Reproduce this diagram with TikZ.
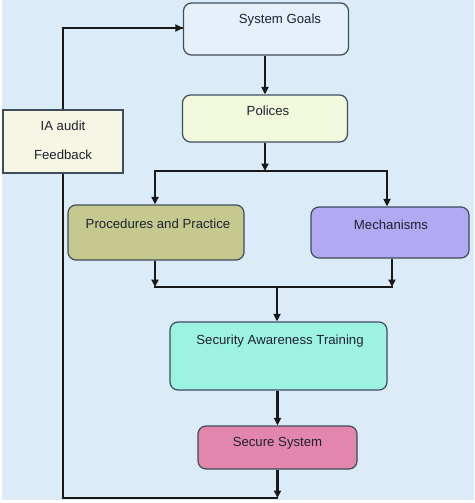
\documentclass[tikz,border=0pt]{standalone}
\usepackage{fontspec}
\setmainfont{Liberation Sans}
\usetikzlibrary{arrows.meta}
\pgfdeclarelayer{bg}
\pgfdeclarelayer{lines}
\pgfsetlayers{bg,lines,main}
\definecolor{bgblue}{HTML}{DCEBF8}
\definecolor{edge}{HTML}{3E4C5C}
\definecolor{txtc}{HTML}{1E2230}
\definecolor{cgoals}{HTML}{E5F0FB}
\definecolor{cpol}{HTML}{F1FADD}
\definecolor{cia}{HTML}{F7F5E4}
\definecolor{cproc}{HTML}{C6C98E}
\definecolor{cmech}{HTML}{B3A8F2}
\definecolor{csat}{HTML}{9DF3E2}
\definecolor{csec}{HTML}{E287AB}
\tikzset{
  box/.style={draw=edge, line width=1.2pt, rounded corners=8pt, inner sep=0pt},
  sqbox/.style={draw=edge, line width=1.2pt, inner sep=0pt},
  txt/.style={anchor=center, inner sep=0pt, text=txtc, font=\fontsize{13.2}{15}\selectfont},
  conn/.style={line width=2.8pt, draw=black!90},
  arr/.style={conn, -{Triangle[length=7.5pt,width=7pt]}},
}
\begin{document}
\begin{tikzpicture}[x=1pt,y=-1pt]
\useasboundingbox (0,0) rectangle (474,503);
\begin{pgfonlayer}{bg}
\fill[white] (0,0) rectangle (474,503);
\fill[bgblue] (2,0) rectangle (474,500);
\end{pgfonlayer}

\node[box, fill=cgoals, minimum width=165pt, minimum height=52pt,
  label={[txt,yshift=-18pt,xshift=14pt]north:System Goals}] (goals) at (266,29) {};
\node[box, fill=cpol, minimum width=165pt, minimum height=47pt,
  label={[txt,yshift=-16pt,xshift=3pt]north:Polices}] (pol) at (265,118.5) {};
\node[sqbox, fill=cia, minimum width=120pt, minimum height=63pt,
  label={[txt,yshift=-16pt]north:IA audit},
  label={[txt,yshift=-45pt]north:Feedback}] (ia) at (63,141.5) {};
\node[box, fill=cproc, minimum width=176pt, minimum height=55pt,
  label={[txt,yshift=-19pt,xshift=2pt]north:Procedures and Practice}] (proc) at (156,232.5) {};
\node[box, fill=cmech, minimum width=158pt, minimum height=51pt,
  label={[txt,yshift=-18pt,xshift=1pt]north:Mechanisms}] (mech) at (390,232.5) {};
\node[box, fill=csat, minimum width=217pt, minimum height=68pt,
  label={[txt,yshift=-20pt,xshift=1.5pt]north:Security Awareness Training}] (sat) at (278.5,356) {};
\node[box, fill=csec, minimum width=159pt, minimum height=43pt,
  label={[txt,yshift=-18pt]north:Secure System}] (sec) at (277.5,447.5) {};

\coordinate (j1) at (265,171);
\coordinate (jl) at (155,171);
\coordinate (jr) at (387,171);
\coordinate (kl) at (155,287);
\coordinate (kr) at (392,287);
\coordinate (km) at (277,287);
\coordinate (b1) at (277.5,498);
\coordinate (b0) at (63,498);
\coordinate (t0) at (63,28);

\begin{pgfonlayer}{lines}
\draw[arr] (pol.south -| j1) -- (j1);
\draw[conn] ([xshift=-1.4pt]jl) -- ([xshift=1.4pt]jr);
\draw[arr] (jl) -- (proc.north -| jl);
\draw[arr] (jr) -- (mech.north -| jr);
\draw[arr] (goals.south -| j1) -- (pol.north -| j1);
\draw[arr] (proc.south -| kl) -- (kl);
\draw[arr] (mech.south -| kr) -- (kr);
\draw[conn] ([xshift=-1.4pt]kl) -- ([xshift=1.4pt]kr);
\draw[arr] (km) -- (sat.north -| km);
\draw[arr] (sat.south -| b1) -- (sec.north -| b1);
\draw[arr] (sec.south -| b1) -- (b1);
\draw[conn, line join=miter] (b1) -- (b0) -- (t0) -- (goals.west |- t0);
\draw[arr] ([xshift=-2pt]goals.west |- t0) -- (goals.west |- t0);
\end{pgfonlayer}
\end{tikzpicture}
\end{document}
